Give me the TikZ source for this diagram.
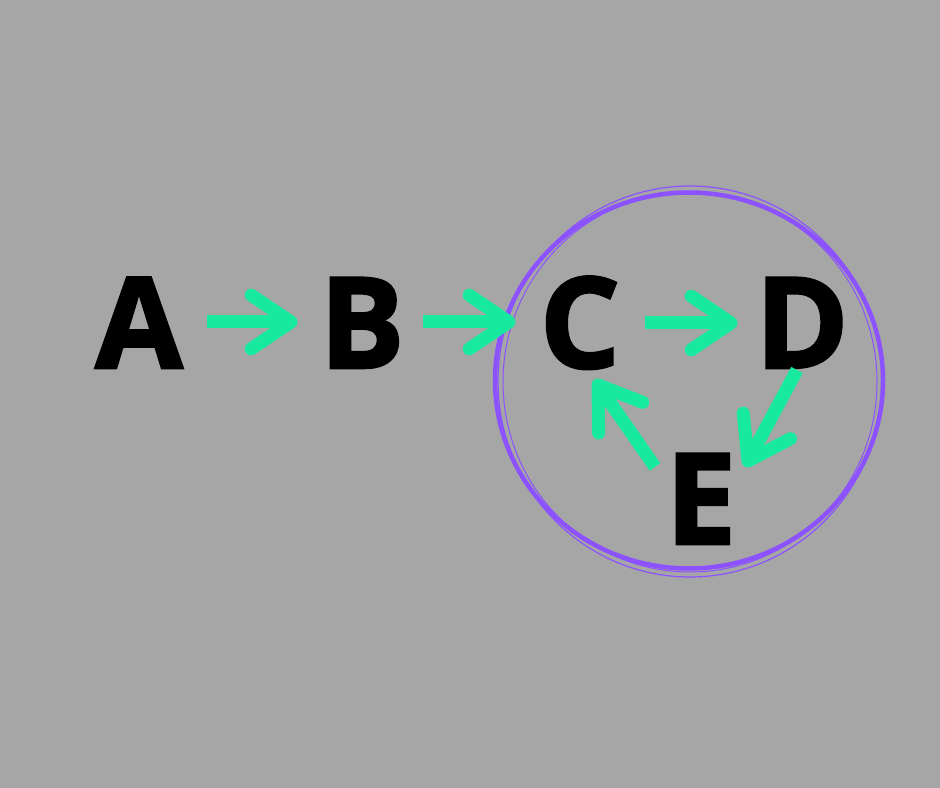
\documentclass[tikz,border=0pt]{standalone}
\usepackage{fontspec}
\newfontfamily\heavy{Open Sans}[BoldFeatures={FakeBold=2}]
\usetikzlibrary{calc}
\definecolor{bg}{HTML}{A6A6A6}
\definecolor{mint}{HTML}{17E99F}
\definecolor{violet}{HTML}{8C52FF}
\tikzset{
  letter/.style={inner sep=0pt, anchor=base, font=\heavy\bfseries\fontsize{127}{127}\selectfont, text=black},
  shaft/.style={draw=mint, line width=13bp, line cap=butt},
  barb/.style={draw=mint, line width=13bp, line cap=round, line join=round},
  ring/.style={draw=violet}
}
\newcommand{\greenarrow}[2]{%
  \draw[shaft] (#1) -- (#2);
  \draw[barb] ($(#2)!48bp!34:(#1)$) -- (#2) -- ($(#2)!48bp!-34:(#1)$);
}
\begin{document}
\begin{tikzpicture}[x=1bp,y=1bp]
\fill[bg] (0,0) rectangle (940,788);
\useasboundingbox (0,0) rectangle (940,788);
% circle
\draw[ring, line width=4.5bp] (689,407.5) ellipse [x radius=194, y radius=188];
\draw[ring, line width=1.2bp] (690,406.5) ellipse [x radius=192, y radius=195.5];
\draw[ring, line width=1bp] (690,406) ellipse [x radius=187, y radius=190];
% letters
\node[letter] (a) at (139,420) {A};
\node[letter] (b) at (362,420) {B};
\node[letter] (c) at (580,420) {C};
\node[letter] (d) at (802,420) {D};
\node[letter] (e) at (701,244) {E};
% arrow end points
\coordinate (abS) at (207,466); \coordinate (abT) at (291,466);
\coordinate (bcS) at (423,466); \coordinate (bcT) at (509,466);
\coordinate (cdS) at (645,465); \coordinate (cdT) at (731,465);
\coordinate (deS) at (797,418); \coordinate (deT) at (748,327);
\coordinate (ecS) at (655,321); \coordinate (ecT) at (598,403);
\greenarrow{abS}{abT}
\greenarrow{bcS}{bcT}
\greenarrow{cdS}{cdT}
\greenarrow{deS}{deT}
\greenarrow{ecS}{ecT}
\end{tikzpicture}
\end{document}
